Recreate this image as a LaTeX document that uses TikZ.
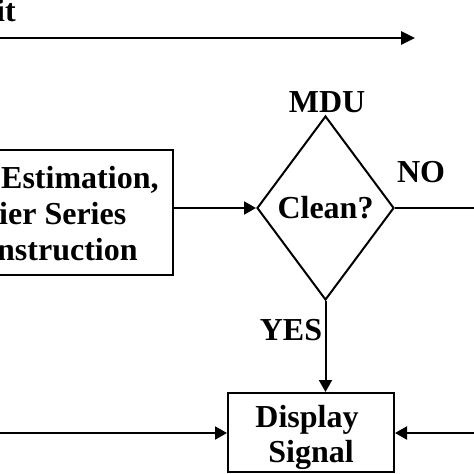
\documentclass[tikz,border=0pt]{standalone}
\usepackage{fontspec}
\setmainfont{Liberation Serif}
\usetikzlibrary{shapes.geometric,arrows.meta}
\begin{document}
\begin{tikzpicture}[x=1pt,y=-1pt,
  lbl/.style={font=\bfseries\fontsize{32}{35}\selectfont, inner sep=0pt},
  box/.style={draw, line width=2pt, rectangle, inner sep=0pt},
  dec/.style={draw, line width=2pt, diamond, inner sep=0pt, minimum width=137pt, minimum height=184pt},
  conn/.style={line width=2pt},
  arr/.style={line width=2pt, -{Triangle[length=12pt,width=13pt]}},
  toparr/.style={line width=2.6pt, -{Triangle[length=14pt,width=13pt]}},
]
\useasboundingbox (0,0) rectangle (474,474);
\clip (0,0) rectangle (474,474);
% top
\node[lbl, anchor=base west] (ittxt) at (-4,21) {it};
\coordinate (topstart) at (-5,38);
\coordinate (topend) at (415,38);
\draw[toparr] (topstart) -- (topend);
% estimation box
\node[box, minimum width=203pt, minimum height=125pt] (est) at (71.5,212.5) {};
\node[lbl, anchor=base west] (e1) at (1,188) {Estimation,};
\node[lbl, anchor=base west] (e2) at (-1,224) {ier Series};
\node[lbl, anchor=base west] (e3) at (-3,260) {nstruction};
% decision
\node[dec, lbl] (mdu) at (325.5,208) {Clean?};
\node[lbl, anchor=base] (mdulbl) at (327,112) {MDU};
\node[lbl, anchor=base] (nolbl) at (421,182) {NO};
\node[lbl, anchor=base] (yeslbl) at (291,340) {YES};
% display
\node[box, minimum width=166pt, minimum height=79pt] (disp) at (311,432.5) {};
\node[lbl, anchor=base] (d1) at (307,427) {Display};
\node[lbl, anchor=base] (d2) at (311,462) {Signal};
% connectors
\draw[arr] (est.east |- mdu.west) -- (mdu.west);
\coordinate (noend) at (480,208);
\draw[conn] (mdu.east) -- (noend);
\draw[arr] (mdu.south) -- (mdu.south |- disp.north);
\coordinate (lin) at (-5,433);
\draw[arr] (lin) -- (lin -| disp.west);
\coordinate (rin) at (480,433);
\draw[arr] (rin) -- (rin -| disp.east);
\end{tikzpicture}
\end{document}
